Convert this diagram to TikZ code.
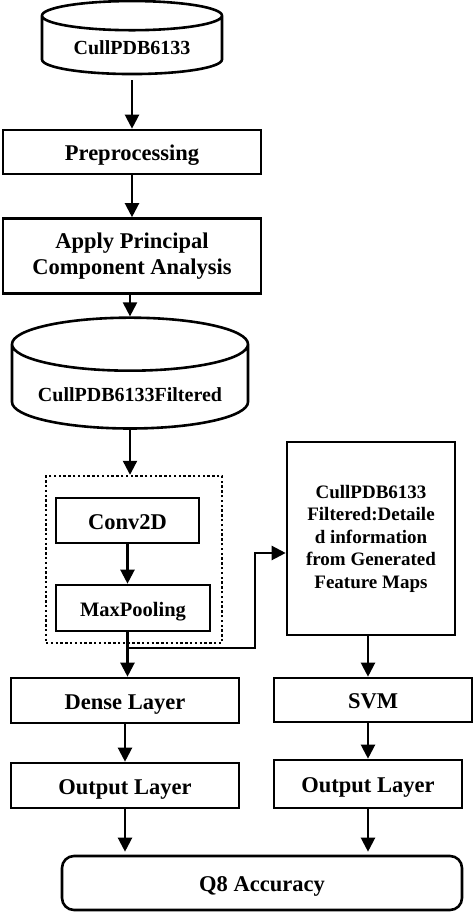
\documentclass[tikz,border=0pt]{standalone}
\usepackage{fontspec}
\setmainfont{Liberation Serif}
\usetikzlibrary{positioning}
\usetikzlibrary{shapes.geometric}
\usetikzlibrary{arrows.meta}

\begin{document}
\begin{tikzpicture}[x=1pt,y=1pt,
                    plain/.style={draw,
                      rectangle,
                      line width=2.6pt,
                      inner sep=0pt,
                      align=center,
                      font=\fontsize{22.5}{26}\selectfont\bfseries},
                    box/.style={plain,
                      text height=18pt,
                      text depth=0pt},
                    db/.style={draw,
                      cylinder,
                      shape border rotate=90,
                      line width=2.6pt,
                      inner sep=0pt,
                      text depth=0pt,
                      font=\fontsize{20}{24}\selectfont\bfseries},
                    arr/.style={-{Triangle[length=14pt,width=14pt]},
                      line width=2.2pt}]
\useasboundingbox (0,0) rectangle (474,912);
\node (db1) [db, aspect=0.25, text height=18pt, minimum width=180, minimum height=73] at (132,866.5) {CullPDB6133};
\node (prep) [box, minimum width=258, minimum height=44] at (132,760) {Preprocessing};
\node (pca) [plain, minimum width=258, minimum height=75] at (132,656) {Apply Principal\\Component Analysis};
\node (db2) [db, aspect=0.288, text height=30pt, minimum width=236, minimum height=105] at (130,525) {CullPDB6133Filtered};
\node (frame) [draw, line width=2.4pt, dash pattern=on 2.4pt off 2.4pt, minimum width=176, minimum height=167] at (134,352.5) {};
\node (conv) [box, minimum width=143, minimum height=45] at (127.5,391.5) {Conv2D};
\node (pool) [box, minimum width=154, minimum height=46,
  font=\fontsize{20.5}{24}\selectfont\bfseries] at (133,304) {MaxPooling};
\node (feat) [plain, minimum width=168, minimum height=193,
  font=\fontsize{19}{22.5}\selectfont\bfseries] at (371,373.5)
  {CullPDB6133\\Filtered:Detaile\\d information\\from Generated\\Feature Maps};
\node (dense) [box, minimum width=228, minimum height=45] at (125,211.5) {Dense Layer};
\node (svm) [box, minimum width=198, minimum height=44] at (373,212) {SVM};
\node (out1) [box, minimum width=228, minimum height=45] at (125,126.5) {Output Layer};
\node (out2) [box, minimum width=188, minimum height=48] at (368,128) {Output Layer};
\node (q8) [box, rounded corners=12pt, minimum width=400, minimum height=54] at (262,29) {Q8 Accuracy};
\coordinate (split) at (conv.south |- 0,264);
\coordinate (bend) at (255,359);
\draw[arr, shorten <=5pt] (db1) -- (prep);
\draw[arr] (prep) -- (pca);
\draw[arr] (pca.south -| db2) -- (db2.north);
\draw[arr] (db2.south) -- (db2.south |- frame.north);
\draw[arr] (conv.south) -- (conv.south |- pool.north);
\draw[arr] (conv.south |- pool.south) -- (conv.south |- dense.north);
\draw[arr] (split) -| (bend) -- (bend -| feat.west);
\draw[arr] (feat.south -| out2) -- (svm.north -| out2);
\draw[arr] (svm.south -| out2) -- (out2);
\draw[arr] (dense) -- (out1);
\draw[arr, shorten >=3pt] (out1.south) -- (out1.south |- q8.north);
\draw[arr, shorten >=3pt] (out2.south) -- (out2.south |- q8.north);
\end{tikzpicture}
\end{document}
